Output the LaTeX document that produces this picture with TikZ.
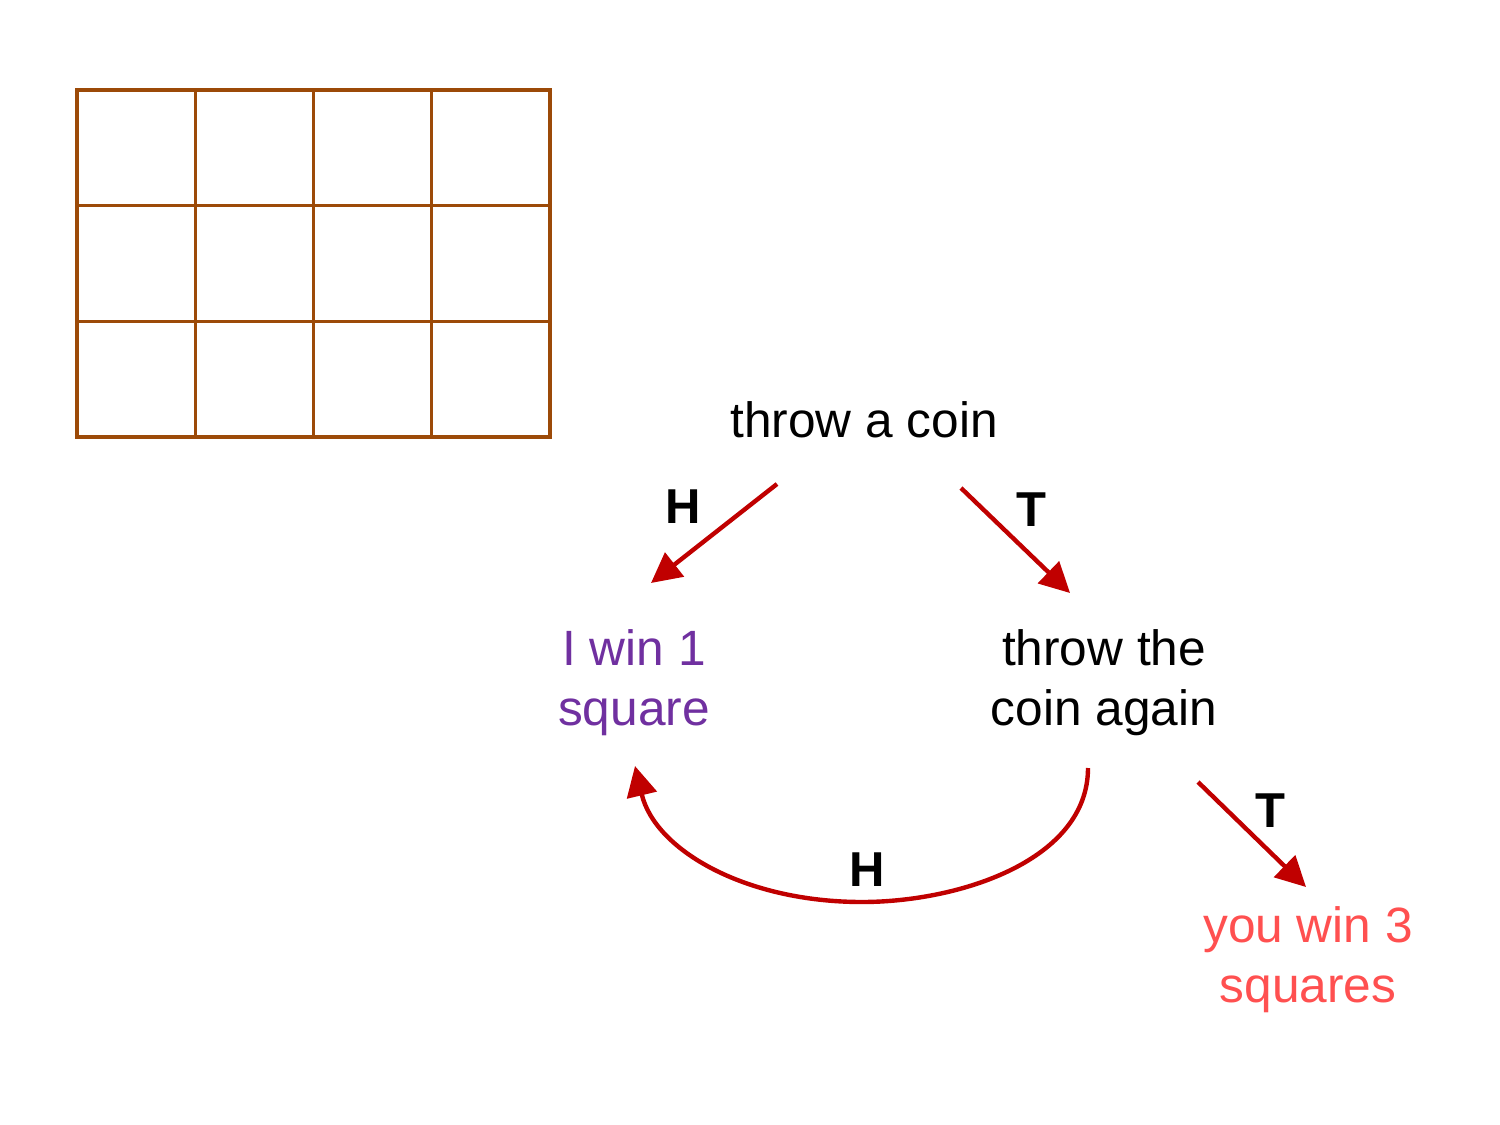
\documentclass[tikz,border=0pt]{standalone}
\usepackage{fontspec}
\setmainfont{Liberation Sans}
\usetikzlibrary{arrows.meta}
\definecolor{gridbrown}{RGB}{156,74,8}
\definecolor{arrowred}{RGB}{192,0,0}
\definecolor{winpurple}{RGB}{112,48,160}
\definecolor{youred}{RGB}{255,80,80}
\begin{document}
\begin{tikzpicture}[x=0.5pt,y=-0.5pt,
  txt/.style={inner sep=0pt,align=center,font=\fontsize{24.8pt}{30pt}\selectfont},
  lbl/.style={inner sep=0pt,font=\fontsize{24.5pt}{30pt}\selectfont\bfseries},
  redarrow/.style={draw=arrowred,line width=2.2pt,-{Triangle[length=15pt,width=15pt]}}]
\useasboundingbox[fill=white] (0,0) rectangle (1500,1125);
% grid
\draw[gridbrown,line width=1.6pt] (77,90) rectangle (550,437);
\foreach \x in {195.25,313.5,431.75} \draw[gridbrown,line width=1.6pt] (\x,90) -- (\x,437);
\foreach \y in {205.7,321.3} \draw[gridbrown,line width=1.6pt] (77,\y) -- (550,\y);
% texts
\node[txt] (coin) at (864,420) {throw a coin};
\node[txt,text=winpurple] (win1) at (634,683) {I win 1\\square};
\node[txt] (again) at (1104,683) {throw the\\coin again};
\node[txt,text=youred] (win3) at (1308,960) {you win 3\\squares};
% arrow end points
\coordinate (a1s) at (777,484);
\coordinate (a1e) at (651,583);
\coordinate (a2s) at (961,488);
\coordinate (a2e) at (1070,593);
\coordinate (a3s) at (1198,782);
\coordinate (a3e) at (1306,887);
\coordinate (a4s) at (1088,768);
\coordinate (a4m) at (862,902);
\coordinate (a4e) at (635,766);
\draw[redarrow] (a1s) -- (a1e);
\draw[redarrow] (a2s) -- (a2e);
\draw[redarrow] (a3s) -- (a3e);
\draw[redarrow] (a4s) .. controls (1088,860) and (960,902) .. (a4m) .. controls (745,902) and (655,850) .. (a4e);
% labels
\node[lbl] (h1) at (683,507) {H};
\node[lbl] (t1) at (1031,510) {T};
\node[lbl] (t2) at (1270,811) {T};
\node[lbl] (h2) at (867,870) {H};
\end{tikzpicture}
\end{document}
